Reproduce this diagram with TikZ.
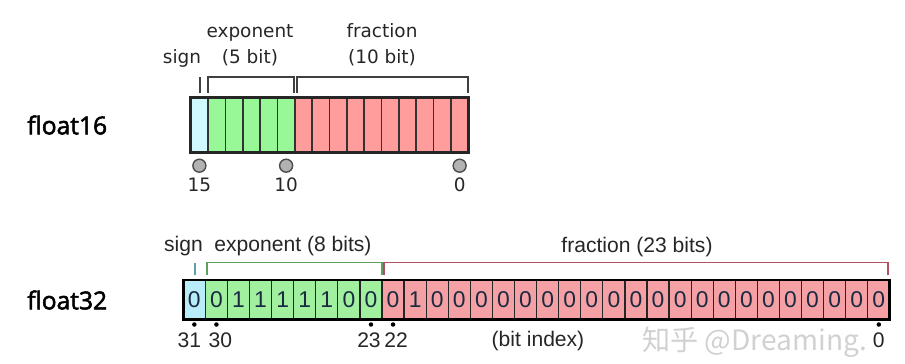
\documentclass[tikz,border=0pt]{standalone}
\usepackage{fontspec}
\newfontfamily\dejavu{DejaVu Sans}
\newfontfamily\arialfont{Liberation Sans}
\newfontfamily\titlefont{Open Sans}[FakeBold=2.2]
\newfontfamily\cjk{Noto Sans CJK SC}

\definecolor{signA}{HTML}{D0F8FF}
\definecolor{expA}{HTML}{98F898}
\definecolor{fracA}{HTML}{FF9C9C}
\definecolor{signB}{HTML}{B8ECF8}
\definecolor{expB}{HTML}{A0F0A0}
\definecolor{fracB}{HTML}{F4A0A4}
\definecolor{signLine}{HTML}{5FA0A8}
\definecolor{expLine}{HTML}{5FA05F}
\definecolor{fracLine}{HTML}{B05060}
\definecolor{digit}{HTML}{1A2A40}

\begin{document}
\begin{tikzpicture}[x=0.02cm, y=-0.02cm]
    % settings for this picture
    \tikzset{
      typename/.style={font=\titlefont\fontsize{14}{16}\selectfont, anchor=west},
      halflabel/.style={font=\dejavu\fontsize{10.5}{14.8}\selectfont, text=black!85, align=center},
      fulllabel/.style={font=\arialfont\fontsize{12}{14}\selectfont, text=black!85},
      halfcell/.style={draw=black!80, line width=0.9pt, minimum width=0.347cm, minimum height=1.1cm, inner sep=0pt, outer sep=0pt},
      bitcell/.style={draw=black!85, line width=0.7pt, minimum width=0.4416cm, minimum height=0.786cm, inner sep=0pt, outer sep=0pt,
        font=\arialfont\fontsize{13}{15}\selectfont, text=digit},
      marker/.style={circle, draw=black!70, fill=black!30, line width=0.8pt, minimum size=0.26cm, inner sep=0pt},
      dot/.style={circle, fill=black, minimum size=0.09cm, inner sep=0pt},
      bracket/.style={line width=1pt},
    }
    \useasboundingbox (0,0) rectangle (905,364);

    % type names
    \node[typename] (f16) at (21,125) {float16};
    \node[typename] (f32) at (21,300) {float32};

    % float16 cells
    \foreach \i in {0,...,15} {
      \ifnum\i=0 \def\col{signA}\else\ifnum\i<6 \def\col{expA}\else\def\col{fracA}\fi\fi
      \node[halfcell, fill=\col] (h\i) at ({190.7+(\i+0.5)*17.35},125.2) {};
    }
    \draw[line width=1.4pt, black!85] (h0.north west) rectangle (h15.south east);

    % float16 markers
    \node[marker] (m15) at (h0.center |- 0,165.7) {};
    \node[marker] (m10) at (h5.center |- 0,165.7) {};
    \node[marker] (m0) at (h15.center |- 0,165.7) {};
    \node[halflabel] at (m15.center |- 0,185) {15};
    \node[halflabel] at (m10.center |- 0,185) {10};
    \node[halflabel] at (m0.center |- 0,185) {0};

    % float16 brackets
    \draw[bracket, black!75] (200,77) -- (200,93);
    \draw[bracket, black!75] (208.3,93) |- (294,77) -- (294,93);
    \draw[bracket, black!75] (296.7,93) |- (468,77) -- (468,93);
    \node[halflabel] at (182,58) {sign};
    \node[halflabel] at (250,45) {exponent\\(5 bit)};
    \node[halflabel] at (382,45) {fraction\\(10 bit)};

    % float32 cells
    \foreach \b [count=\n from 0] in {0,0,1,1,1,1,1,0,0,0,1,0,0,0,0,0,0,0,0,0,0,0,0,0,0,0,0,0,0,0,0,0} {
      \ifnum\n=0 \def\col{signB}\else\ifnum\n<9 \def\col{expB}\else\def\col{fracB}\fi\fi
      \node[bitcell, fill=\col] (b\n) at ({183.3+(\n+0.5)*22.08},299.6) {\b};
    }
    \draw[line width=1.6pt, black] (b0.north west) rectangle (b31.south east);

    % float32 brackets
    \draw[bracket, signLine] (195,263) -- (195,275);
    \draw[bracket, expLine] (206.7,275) |- (382.3,262.5) -- (382.3,275);
    \draw[bracket, fracLine] (383.8,275) |- (888.3,262.5) -- (888.3,275);
    \node[fulllabel] at (183.5,246) {sign};
    \node[fulllabel] at (293,246) {exponent (8 bits)};
    \node[fulllabel] at (637,247) {fraction (23 bits)};

    % watermark
    \node[font=\cjk\fontsize{16}{18}\selectfont, text=black!18, anchor=east] (wm) at (873,342) {知乎 @Dreaming.};

    % bit index
    \foreach \n/\k/\dx in {0/31/-5, 1/30/4, 8/23/-2, 9/22/3, 31/0/0} {
      \node[dot] (d\n) at (b\n.center |- 0,324.5) {};
      \node[fulllabel] at ([xshift=\dx*0.02cm]d\n.center |- 0,340) {\k};
    }
    \node[fulllabel] (idx) at (538,341.5) {(bit index)};
\end{tikzpicture}
\end{document}
